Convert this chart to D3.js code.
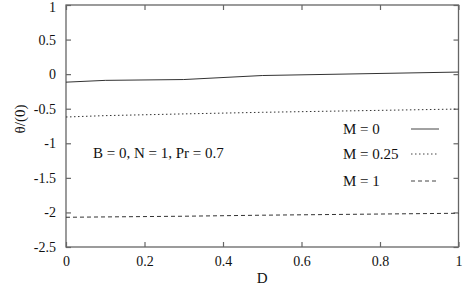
<!DOCTYPE html>
<html>
<head>
<meta charset="utf-8">
<script src="https://cdn.jsdelivr.net/npm/d3@7"></script>
<style>
  body { margin: 0; background: #fff; }
  svg text { font-family: "Liberation Serif", "DejaVu Serif", serif; fill: #111; }
</style>
</head>
<body>
<div id="chart"></div>
<script>
// data
var dValues = [0, 0.1, 0.3, 0.5, 1];
var m0 = [-0.116, -0.09, -0.078, -0.02, 0.03];
var m025 = [-0.62, -0.6, -0.575, -0.552, -0.505];
var m1 = [-2.07, -2.065, -2.055, -2.04, -2.012];
var xTicks = [0, 0.2, 0.4, 0.6, 0.8, 1];
var yTicks = [1, 0.5, 0, -0.5, -1, -1.5, -2, -2.5];
var seriesNames = ["M = 0", "M = 0.25", "M = 1"];
var dashes = [null, "1.5,2.5", "4,3"];

var width = 474, height = 289;
var margin = {top: 5, right: 15, bottom: 42, left: 66};
var serif = "'Liberation Serif', 'DejaVu Serif', serif";

var svg = d3.select("#chart").append("svg")
  .attr("width", width)
  .attr("height", height);

var x = d3.scaleLinear().domain([0, 1]).range([margin.left, width - margin.right - 0.5]);
var y = d3.scaleLinear().domain([-2.5, 1]).range([height - margin.bottom, margin.top]);

var axisColor = "#666";
var fmt = function(d) { return String(d); }; // plain hyphen minus like the original

// frame
svg.append("rect")
  .attr("x", x(0)).attr("y", y(1))
  .attr("width", x(1) - x(0)).attr("height", y(-2.5) - y(1))
  .attr("fill", "none").attr("stroke", axisColor).attr("stroke-width", 1.3);

function styleAxis(g) {
  g.attr("font-family", serif).attr("font-size", 14);
  g.select(".domain").remove();
  g.selectAll(".tick line").attr("stroke", axisColor).attr("stroke-width", 1.2);
  g.selectAll(".tick text")
    .style("font-family", serif)
    .style("font-size", "14px");
}

svg.append("g")
  .attr("transform", "translate(0," + y(-2.5) + ")")
  .call(d3.axisBottom(x).tickValues(xTicks).tickSize(-5).tickPadding(9).tickFormat(fmt))
  .call(styleAxis);
svg.append("g")
  .attr("transform", "translate(0," + y(1) + ")")
  .call(d3.axisTop(x).tickValues(xTicks).tickSize(-5).tickFormat(""))
  .call(styleAxis);
var yAxisG = svg.append("g")
  .attr("transform", "translate(" + x(0) + ",0)")
  .call(d3.axisLeft(y).tickValues(yTicks).tickSize(-5).tickPadding(10).tickFormat(fmt))
  .call(styleAxis);
// keep the top label inside the window
yAxisG.selectAll(".tick text").filter(function(d) { return d === 1; }).attr("dy", "0.45em");
svg.append("g")
  .attr("transform", "translate(" + x(1) + ",0)")
  .call(d3.axisRight(y).tickValues(yTicks).tickSize(-5).tickFormat(""))
  .call(styleAxis);

// lines
var line = d3.line()
  .x(function(d, i) { return x(dValues[i]); })
  .y(function(d) { return y(d); });

[m0, m025, m1].forEach(function(s, i) {
  svg.append("path")
    .datum(s)
    .attr("d", line)
    .attr("fill", "none")
    .attr("stroke", "#333")
    .attr("stroke-width", 1)
    .attr("stroke-dasharray", dashes[i]);
});

// legend
var legY = [129, 154, 181];
seriesNames.forEach(function(n, i) {
  svg.append("text")
    .attr("x", 343).attr("y", legY[i] + 5)
    .style("font-size", "15px")
    .text(n);
  svg.append("line")
    .attr("x1", 411).attr("x2", 439)
    .attr("y1", legY[i]).attr("y2", legY[i])
    .attr("stroke", "#444").attr("stroke-width", 1)
    .attr("stroke-dasharray", dashes[i]);
});

// annotation
svg.append("text")
  .attr("x", 93).attr("y", 158)
  .style("font-size", "15px")
  .text("B = 0, N = 1, Pr = 0.7");

// axis labels
svg.append("text")
  .attr("x", x(0.5)).attr("y", 283)
  .attr("text-anchor", "middle")
  .style("font-size", "15px")
  .text("D");
svg.append("text")
  .attr("transform", "translate(25,119) rotate(-90)")
  .attr("text-anchor", "middle")
  .style("font-size", "15px")
  .text("θ/(0)");
</script>
</body>
</html>
